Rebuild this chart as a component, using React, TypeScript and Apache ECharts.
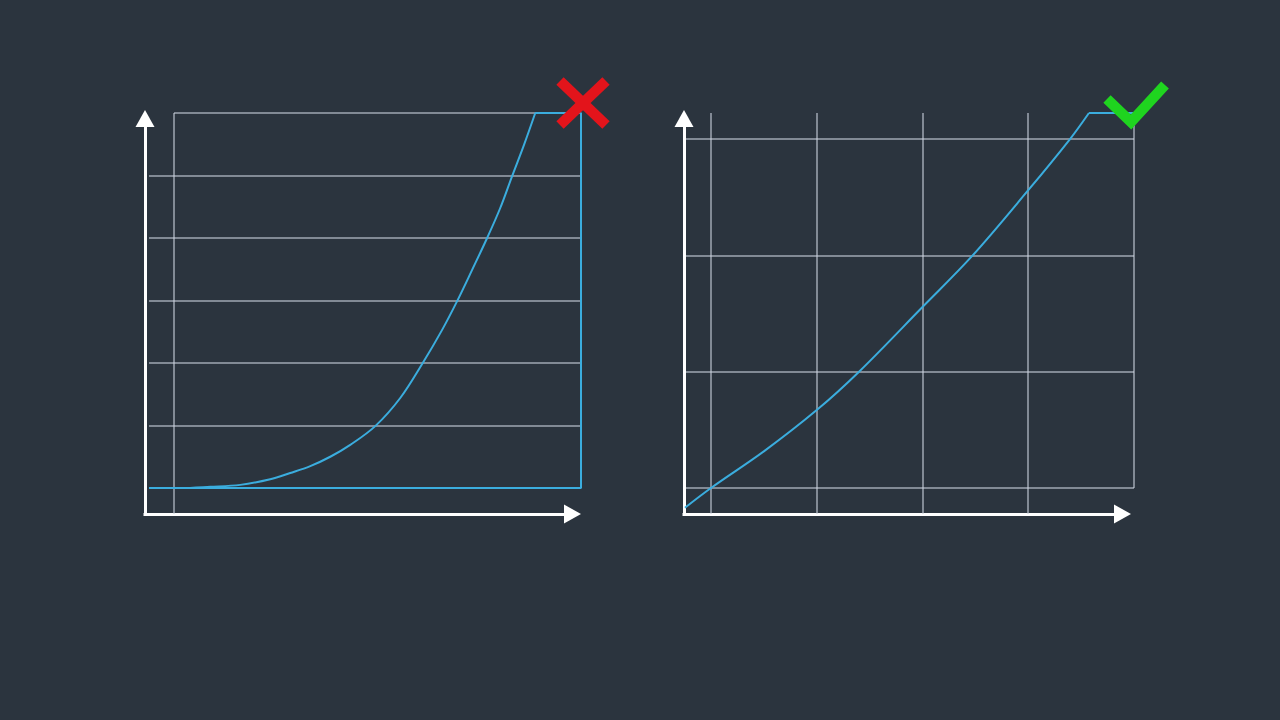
import React, { useEffect, useRef } from "react";
import * as echarts from "echarts";

// Left chart (exponential-like curve), units: grid spacing
const leftCurveX = [0, 0.5, 0.98, 1.46, 1.94, 2.26, 2.58, 2.9, 3.22, 3.62, 4.02, 4.38, 4.69, 4.93, 5.17, 5.41, 5.62, 5.81, 6.0, 6.18];
const leftCurveY = [0, 0, 0.02, 0.05, 0.14, 0.24, 0.35, 0.5, 0.69, 0.99, 1.44, 2.0, 2.53, 2.99, 3.49, 4.0, 4.48, 4.99, 5.49, 6.0];
const leftOutlineX = [6.18, 6.912, 6.912, 0];
const leftOutlineY = [6.0, 6.0, 0, 0];
const leftHLines = [0, 1, 2, 3, 4, 5];
const leftTopLine = 6;
const leftVLine = 0.4;
const leftXRange = [-0.064, 6.912];
const leftYRange = [-0.416, 6];

// Right chart (near-linear curve)
const rightCurveX = [-0.246, 0, 0.5, 1.0, 1.4, 2.0, 2.47, 3.0, 3.395, 3.574];
const rightCurveY = [-0.17, 0, 0.315, 0.67, 1.0, 1.556, 1.995, 2.56, 3.0, 3.224];
const rightFlatX = [3.574, 4.0];
const rightFlatY = [3.224, 3.224];
const rightHLines = [0, 1, 2, 3];
const rightVLines = [0, 1, 2, 3];
const rightEdge = 4;
const rightXRange = [-0.255, 4];
const rightYRange = [-0.2236, 3.224];

const BG = "#2b343e";
const GRID = "rgba(205,214,224,0.72)";
const CURVE = "#3badde";

export default function App() {
  const ref = useRef<HTMLDivElement>(null);
  useEffect(() => {
    const chart = echarts.init(ref.current!, null, { renderer: "svg" });

    const gridStyle = { color: GRID, width: 1.5, type: "solid" as const };
    const seg = (a: number[], b: number[], style: any = gridStyle) => [
      { coord: a, lineStyle: style },
      { coord: b },
    ];

    const leftMark = [
      ...leftHLines.map((y) => seg([0, y], [leftXRange[1], y])),
      seg([leftVLine, leftTopLine], [leftXRange[1], leftTopLine]),
      seg([leftVLine, leftYRange[0]], [leftVLine, leftTopLine]),
    ];
    const rightMark = [
      ...rightHLines.map((y) => seg([-0.236, y], [rightXRange[1], y])),
      ...rightVLines.map((x) => seg([x, rightYRange[0]], [x, rightYRange[1]])),
      seg([rightEdge, 0], [rightEdge, rightYRange[1]]),
    ];

    const axisLineOpt = {
      show: true,
      onZero: false,
      symbol: ["none", "triangle"],
      symbolSize: [19, 17],
      lineStyle: { color: "#ffffff", width: 3, cap: "square" },
    };
    const hiddenAxis = {
      axisLine: { show: false },
      axisTick: { show: false },
      axisLabel: { show: false },
      splitLine: { show: false },
    };
    const decoAxis = {
      min: 0,
      max: 1,
      axisLine: axisLineOpt,
      axisTick: { show: false },
      axisLabel: { show: false },
      splitLine: { show: false },
    };
    const lineSeries = (xi: number, xs: number[], ys: number[], smooth: any, extra: any = {}) => ({
      type: "line",
      xAxisIndex: xi,
      yAxisIndex: xi,
      data: xs.map((x, i) => [x, ys[i]]),
      showSymbol: false,
      symbol: "none",
      smooth,
      lineStyle: { color: CURVE, width: 2 },
      silent: true,
      z: 3,
      ...extra,
    });
    const marks = (data: any[]) => ({
      silent: true,
      symbol: "none",
      label: { show: false },
      data,
      z: 2,
    });

    chart.setOption({
      animation: false,
      backgroundColor: BG,
      grid: [
        { left: 145, right: 699, top: 113, bottom: 206 },
        { left: 145, right: 707.5, top: 118.5, bottom: 206 },
        { left: 684, right: 146, top: 113, bottom: 206 },
        { left: 684, right: 157.5, top: 118.5, bottom: 206 },
      ],
      xAxis: [
        { type: "value", gridIndex: 0, min: leftXRange[0], max: leftXRange[1], ...hiddenAxis },
        { type: "value", gridIndex: 1, ...decoAxis },
        { type: "value", gridIndex: 2, min: rightXRange[0], max: rightXRange[1], ...hiddenAxis },
        { type: "value", gridIndex: 3, ...decoAxis },
      ],
      yAxis: [
        { type: "value", gridIndex: 0, min: leftYRange[0], max: leftYRange[1], ...hiddenAxis },
        { type: "value", gridIndex: 1, ...decoAxis },
        { type: "value", gridIndex: 2, min: rightYRange[0], max: rightYRange[1], ...hiddenAxis },
        { type: "value", gridIndex: 3, ...decoAxis },
      ],
      series: [
        lineSeries(0, leftCurveX, leftCurveY, 0.35, { markLine: marks(leftMark) }),
        lineSeries(0, leftOutlineX, leftOutlineY, false),
        lineSeries(2, rightCurveX, rightCurveY, 0.35, { markLine: marks(rightMark) }),
        lineSeries(2, rightFlatX, rightFlatY, false),
      ],
      graphic: [
        {
          type: "line",
          z: 100,
          shape: { x1: 560, y1: 81, x2: 606, y2: 125 },
          style: { stroke: "#e3141b", lineWidth: 10.5 },
        },
        {
          type: "line",
          z: 100,
          shape: { x1: 606, y1: 81, x2: 560, y2: 125 },
          style: { stroke: "#e3141b", lineWidth: 10.5 },
        },
        {
          type: "polyline",
          z: 100,
          shape: { points: [[1107, 99], [1131, 122], [1165, 85]] },
          style: { stroke: "#1fd41f", lineWidth: 10.5, fill: null, lineJoin: "miter" },
        },
      ],
    });
    return () => chart.dispose();
  }, []);
  return (
    <div
      ref={ref}
      style={{ position: "fixed", left: 0, top: 0, width: 1280, height: 720 }}
    />
  );
}
